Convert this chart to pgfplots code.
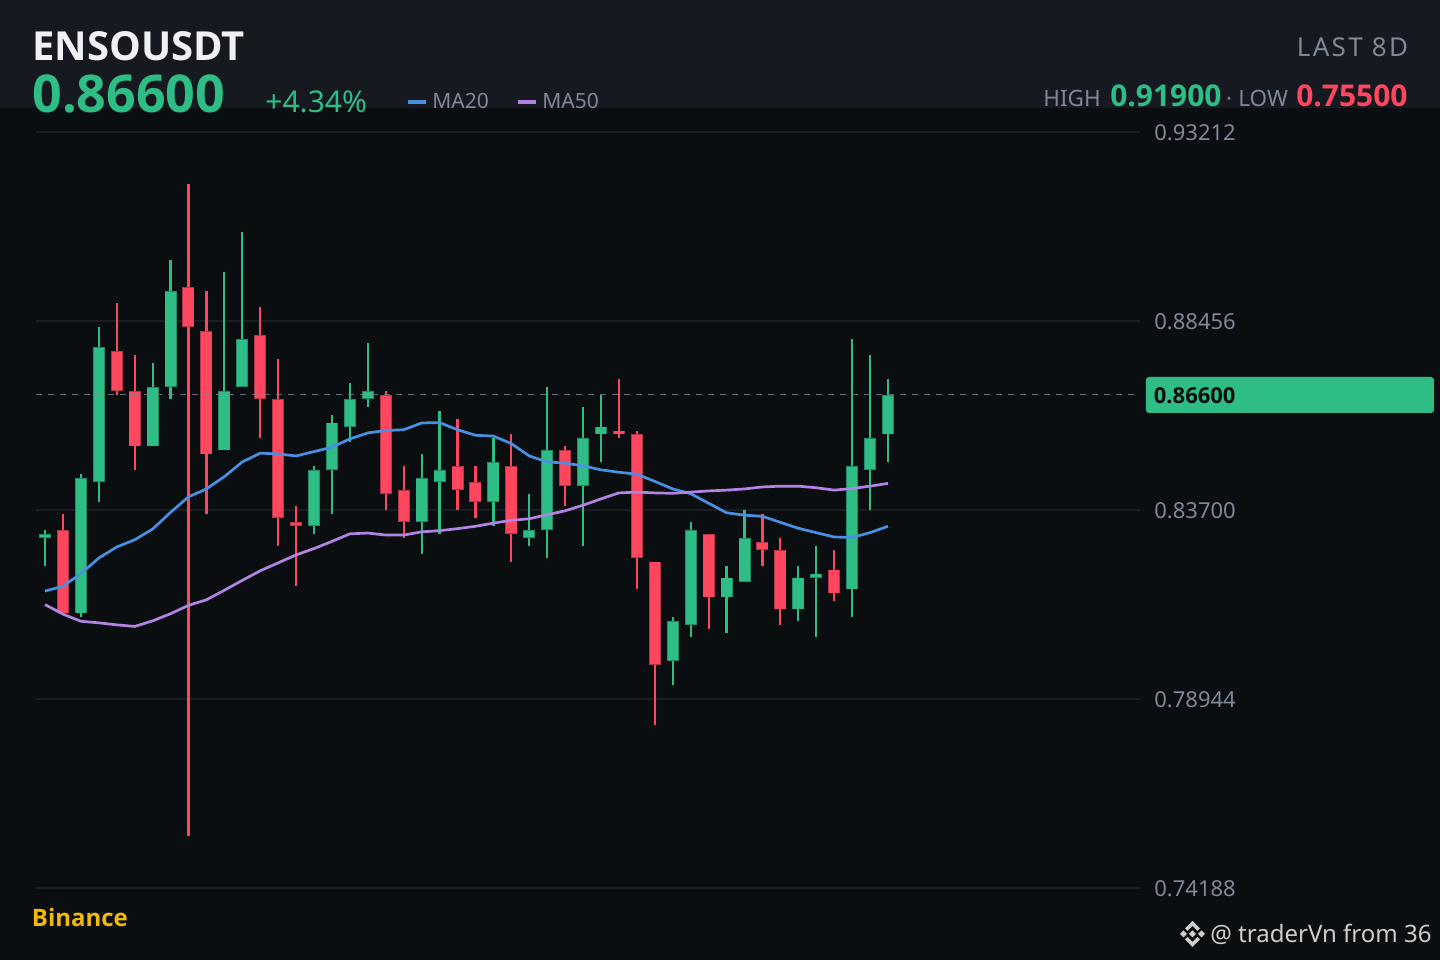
\documentclass[border=0pt]{standalone}
\usepackage{fontspec}
\setmainfont{Noto Sans}[BoldFont={Open Sans Bold}]
\usepackage{pgfplots}
\usepackage{pgfplotstable}
\pgfplotsset{compat=1.18}
\definecolor{bgmain}{RGB}{11,14,17}
\definecolor{bghead}{RGB}{22,26,32}
\definecolor{gridc}{RGB}{26,29,34}
\definecolor{upc}{RGB}{46,189,133}
\definecolor{downc}{RGB}{255,70,95}
\definecolor{upedge}{RGB}{36,140,102}
\definecolor{downedge}{RGB}{180,52,72}
\definecolor{graytxt}{RGB}{128,136,152}
\definecolor{maone}{RGB}{74,144,226}
\definecolor{matwo}{RGB}{177,132,226}
\definecolor{binance}{RGB}{240,185,11}
\definecolor{foot}{RGB}{205,205,205}
\newcommand{\fpx}[1]{\fontsize{\fpeval{#1*0.5}bp}{\fpeval{#1*0.6}bp}\selectfont}
\pgfplotstableread{
i b t h l
0 0.830 0.831 0.832 0.823
2 0.811 0.845 0.846 0.810
3 0.844 0.878 0.883 0.839
6 0.853 0.868 0.874 0.853
7 0.868 0.892 0.900 0.865
10 0.852 0.867 0.897 0.852
11 0.868 0.880 0.907 0.868
15 0.833 0.847 0.848 0.831
16 0.847 0.859 0.861 0.836
17 0.858 0.865 0.869 0.854
18 0.865 0.867 0.879 0.863
21 0.834 0.845 0.851 0.826
22 0.844 0.847 0.862 0.831
25 0.839 0.849 0.855 0.833
27 0.830 0.832 0.841 0.828
28 0.832 0.852 0.868 0.825
30 0.843 0.855 0.863 0.828
31 0.856 0.858 0.866 0.849
35 0.799 0.809 0.810 0.793
36 0.808 0.832 0.834 0.805
38 0.815 0.820 0.823 0.806
39 0.819 0.830 0.837 0.819
42 0.812 0.820 0.823 0.809
43 0.820 0.821 0.828 0.805
45 0.817 0.848 0.880 0.810
46 0.847 0.855 0.876 0.837
47 0.856 0.866 0.870 0.849
}\upcandles
\pgfplotstableread{
i b t h l
1 0.811 0.832 0.836 0.811
4 0.867 0.877 0.889 0.866
5 0.853 0.867 0.876 0.847
8 0.883 0.893 0.919 0.755
9 0.851 0.882 0.892 0.836
12 0.865 0.881 0.888 0.855
13 0.835 0.865 0.875 0.828
14 0.833 0.834 0.838 0.818
19 0.841 0.866 0.867 0.837
20 0.834 0.842 0.848 0.830
23 0.842 0.848 0.860 0.837
24 0.839 0.844 0.848 0.835
26 0.831 0.848 0.856 0.824
29 0.843 0.852 0.853 0.838
32 0.856 0.857 0.870 0.855
33 0.825 0.856 0.857 0.817
34 0.798 0.824 0.824 0.783
37 0.815 0.831 0.831 0.807
40 0.827 0.829 0.836 0.823
41 0.812 0.827 0.830 0.808
44 0.816 0.822 0.827 0.814
}\downcandles
\pgfplotstableread{
i m20 m50
0 0.8166 0.8132
1 0.8178 0.8108
2 0.8210 0.8090
3 0.8249 0.8086
4 0.8277 0.8081
5 0.8295 0.8077
6 0.8322 0.8091
7 0.8364 0.8109
8 0.8403 0.8130
9 0.8423 0.8144
10 0.8454 0.8168
11 0.8491 0.8193
12 0.8513 0.8217
13 0.8511 0.8237
14 0.8506 0.8257
15 0.8517 0.8273
16 0.8528 0.8291
17 0.8549 0.8310
18 0.8564 0.8312
19 0.8570 0.8307
20 0.8572 0.8307
21 0.8589 0.8315
22 0.8590 0.8318
23 0.8572 0.8323
24 0.8558 0.8329
25 0.8556 0.8337
26 0.8537 0.8344
27 0.8506 0.8348
28 0.8491 0.8358
29 0.8488 0.8368
30 0.8481 0.8382
31 0.8471 0.8398
32 0.8465 0.8413
33 0.8460 0.8415
34 0.8442 0.8413
35 0.8423 0.8412
36 0.8411 0.8415
37 0.8387 0.8418
38 0.8363 0.8420
39 0.8357 0.8423
40 0.8354 0.8428
41 0.8339 0.8430
42 0.8324 0.8430
43 0.8313 0.8426
44 0.8302 0.8420
45 0.8301 0.8424
46 0.8313 0.8430
47 0.8329 0.8437
}\mas
\pgfplotsset{
  wick/.style={forget plot,draw=none,mark=none,error bars/.cd,y dir=plus,y explicit,error mark=none,error bar style={solid,color=#1,line width=1.1bp}},
  outerbody/.style={forget plot,draw=none,mark=none,error bars/.cd,y dir=plus,y explicit,error mark=none,error bar style={solid,color=#1,line width=6bp}},
  innerbody/.style={forget plot,draw=none,mark=none,error bars/.cd,y dir=plus,y explicit,error mark=none,error bar style={solid,color=#1,line width=5.2bp}},
}
\begin{document}
\begin{tikzpicture}
\fill[bgmain] (0,0) rectangle (720bp,480bp);
\fill[bghead] (0,426bp) rectangle (720bp,480bp);
\begin{axis}[
  at={(18bp,36bp)},anchor=south west,
  scale only axis,width=552bp,height=378bp,
  xmin=-0.5018,xmax=61.05,
  ymin=0.74188,ymax=0.93212,
  clip=false,
  axis line style={draw=none},
  xtick=\empty,
  ytick={0.74188,0.78944,0.83700,0.88456,0.93212},
  yticklabel pos=right,
  ymajorgrids=true,
  major grid style={gridc,line width=1bp},
  tick style={draw=none},
  y tick label style={anchor=west,inner sep=0pt,xshift=7bp,yshift=-0.5bp,text=graytxt,font=\fpx{22},
    /pgf/number format/.cd,fixed,fixed zerofill,precision=5,assume math mode=true},
]
\addplot[wick=upc] table[x=i,y=l,y error plus expr=\thisrow{h}-\thisrow{l}] {\upcandles};
\addplot[outerbody=upedge] table[x=i,y=b,y error plus expr=\thisrow{t}-\thisrow{b}] {\upcandles};
\addplot[innerbody=upc] table[x=i,y expr=\thisrow{b}+0.0002,y error plus expr=\thisrow{t}-\thisrow{b}-0.0004] {\upcandles};
\addplot[wick=downc] table[x=i,y=l,y error plus expr=\thisrow{h}-\thisrow{l}] {\downcandles};
\addplot[outerbody=downedge] table[x=i,y=b,y error plus expr=\thisrow{t}-\thisrow{b}] {\downcandles};
\addplot[innerbody=downc] table[x=i,y expr=\thisrow{b}+0.0002,y error plus expr=\thisrow{t}-\thisrow{b}-0.0004] {\downcandles};
\addplot[forget plot,graytxt,opacity=0.75,line width=0.7bp,dash pattern=on 3bp off 3bp] coordinates {(-0.5018,0.866) (60.8,0.866)};
\addplot[maone,line width=1.35bp,line join=round] table[x=i,y=m20] {\mas};
\addplot[matwo,line width=1.35bp,line join=round] table[x=i,y=m50] {\mas};
\end{axis}
\begin{scope}[x=0.5bp,y=-0.5bp,shift={(0,480bp)}]
\node[anchor=base west,inner sep=0pt,text={rgb,255:red,240;green,241;blue,245},font=\fpx{40}\bfseries] at (32,61) {ENSOUSDT};
\node[anchor=base west,inner sep=0pt,text=upc,font=\fpx{52}\bfseries] at (32,113) {0.86600};
\node[anchor=base west,inner sep=0pt,text=upc,font=\fpx{30}] at (265,113) {+4.34\%};
\fill[maone] (408,100.5) rectangle (426,104);
\node[anchor=base west,inner sep=0pt,text=graytxt,font=\fpx{21}] at (432,108.5) {MA20};
\fill[matwo] (518,100.5) rectangle (536,104);
\node[anchor=base west,inner sep=0pt,text=graytxt,font=\fpx{21}] at (542,108.5) {MA50};
\node[anchor=base east,inner sep=0pt,text=graytxt,font=\fpx{26}\addfontfeature{LetterSpace=9}] at (1408.5,56.5) {LAST 8D};
\node[anchor=base west,inner sep=0pt,text=graytxt,font=\fpx{22.5}] at (1043,107) {HIGH};
\node[anchor=base east,inner sep=0pt,text=upc,font=\fpx{30}\bfseries] at (1222,107) {0.91900};
\node[anchor=base,inner sep=0pt,text=graytxt,font=\fpx{22}] at (1229,107) {·};
\node[anchor=base west,inner sep=0pt,text=graytxt,font=\fpx{22.5}] at (1238,107) {LOW};
\node[anchor=base east,inner sep=0pt,text=downc,font=\fpx{30}\bfseries] at (1408,107) {0.75500};
\fill[upc,rounded corners=1.5bp] (1146,377) rectangle (1434,413);
\node[anchor=base west,inner sep=0pt,text=bgmain,font=\fpx{22}\bfseries] at (1153.5,404) {0.86600};
\node[anchor=base west,inner sep=0pt,text=binance,font=\fpx{24}\bfseries] at (31.5,927) {Binance};
\node[anchor=base east,inner sep=0pt,text=foot,font=\fpx{24}] at (1432,943) {@ traderVn from 36};
\fill[foot] (1192.5,930.5) -- (1196,934) -- (1192.5,937.5) -- (1189,934) -- cycle;
\fill[foot] (1183.5,930.5) -- (1187,934) -- (1183.5,937.5) -- (1180,934) -- cycle;
\fill[foot] (1201.5,930.5) -- (1205,934) -- (1201.5,937.5) -- (1198,934) -- cycle;
\fill[foot] (1192.5,921) -- (1200,928.5) -- (1197.5,931) -- (1192.5,926) -- (1187.5,931) -- (1185,928.5) -- cycle;
\fill[foot] (1192.5,947) -- (1200,939.5) -- (1197.5,937) -- (1192.5,942) -- (1187.5,937) -- (1185,939.5) -- cycle;
\end{scope}
\end{tikzpicture}
\end{document}
